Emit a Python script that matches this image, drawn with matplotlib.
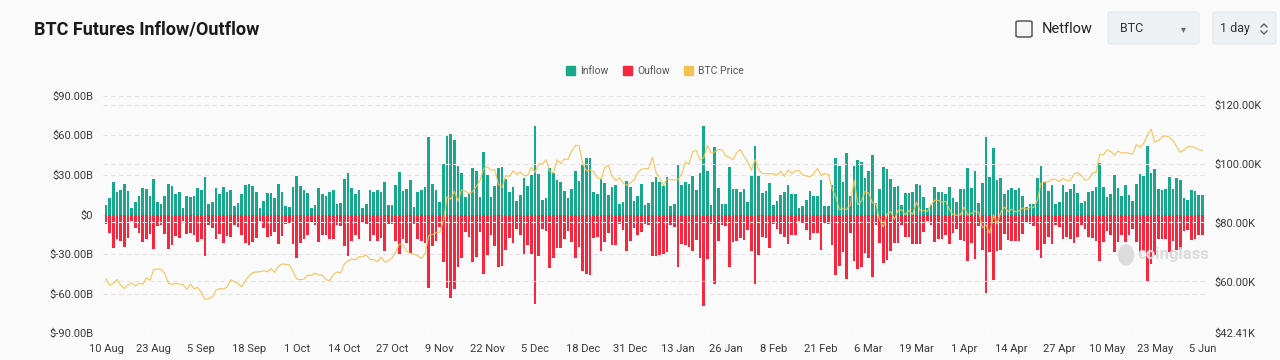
import matplotlib
matplotlib.use("Agg")
import matplotlib.pyplot as plt
from matplotlib.patches import FancyBboxPatch, Rectangle, Ellipse
import pandas as pd

plt.rcParams['font.family'] = ['Roboto', 'DejaVu Sans']

# daily values, 10 Aug 2024 -> 5 Jun 2025 (billions USD)
inflow = [
    7.1, 12.7, 24.4, 17.0, 18.3, 22.9, 17.6, 5.1, 9.7, 14.0,
    20.4, 19.3, 14.0, 27.2, 9.2, 8.1, 13.7, 22.9, 21.6, 15.5,
    17.0, 4.6, 13.7, 13.5, 14.2, 20.4, 18.6, 28.5, 7.6, 9.7,
    19.8, 15.3, 21.1, 16.8, 18.3, 6.4, 8.4, 15.5, 22.4, 23.2,
    21.9, 17.0, 5.1, 10.2, 16.5, 16.5, 12.5, 22.9, 16.8, 6.1,
    5.6, 20.9, 29.0, 21.6, 18.3, 16.0, 4.6, 6.9, 20.4,
    15.3, 14.2, 16.8, 18.6, 7.6, 8.7, 26.7, 31.6, 19.8, 15.8,
    18.8, 5.1, 7.9, 18.3, 16.8, 18.8, 16.8, 24.9, 6.9, 6.9,
    22.1, 32.3, 17.8, 19.6, 26.2, 5.9, 16.8, 18.3, 21.1, 58.5,
    22.9, 18.3, 9.2, 38.2, 59.5, 60.8, 56.7, 36.4, 31.6, 13.0,
    15.5, 35.1, 32.6, 13.2, 47.3, 30.0, 13.0, 21.9, 35.6, 35.9,
    27.2, 17.3, 21.1, 10.2, 14.5, 27.5, 21.9, 30.0, 66.7,
    30.5, 10.7, 12.2, 35.6, 31.3, 26.2, 24.4, 17.8, 12.2, 19.3,
    33.3, 25.2, 37.4, 42.5, 43.0, 17.0, 15.3, 27.0, 24.2, 14.5,
    20.9, 22.4, 7.6, 9.4, 25.2, 20.6, 9.9, 14.0, 22.9, 7.1,
    8.4, 24.7, 28.2, 24.4, 21.6, 28.2, 6.6, 7.9, 37.4, 22.4,
    24.9, 22.9, 29.5, 18.6, 31.3, 66.9, 33.3, 7.4, 50.9, 20.1,
    7.6, 7.9, 36.1, 19.3, 19.3, 16.8, 19.6, 9.4, 29.5, 51.7,
    28.8, 16.0, 17.6, 24.2, 6.9, 10.2, 14.8, 16.8, 22.1, 15.3,
    15.8, 4.6, 6.1, 11.2, 18.1, 13.7, 14.0, 26.2, 6.4, 6.4,
    22.4, 42.7, 36.4, 24.4, 46.6, 14.0, 36.6, 41.0, 39.4, 27.7,
    32.6, 45.3, 8.9, 19.3, 36.1, 34.6, 27.2, 21.1, 21.4, 7.1,
    16.0, 16.5, 16.8, 23.4, 22.4, 13.2, 5.1, 7.1, 20.6, 17.3,
    17.3, 15.5, 21.1, 12.2, 9.7, 19.6, 19.3, 35.1, 20.0,
    32.8, 8.4, 23.9, 58.5, 28.2, 50.4, 26.2, 27.5, 15.5, 18.8,
    20.4, 18.3, 19.8, 14.0, 5.9, 7.6, 8.1, 28.0, 36.4, 24.4,
    18.1, 22.1, 7.9, 9.2, 22.4, 17.3, 19.3, 22.9, 16.5, 8.4,
    10.4, 17.3, 17.8, 21.1, 39.2, 20.9, 13.0, 15.5, 30.0, 19.8,
    14.0, 22.1, 14.8, 10.2, 22.9, 30.5, 29.0, 52.2, 31.8, 34.6,
    19.1, 18.6, 19.1, 28.2, 19.1, 27.5, 26.5, 12.2, 11.2, 18.6,
    18.1, 14.8, 15.0,
]

outflow = [
    7.1, 14.0, 25.2, 18.3, 20.4, 24.7, 17.8, 5.1, 10.2, 13.7,
    20.9, 18.8, 14.8, 26.2, 8.9, 8.1, 14.8, 26.2, 23.2, 16.3,
    17.8, 5.1, 14.5, 14.2, 15.8, 20.9, 18.8, 31.6, 8.1, 10.2,
    18.8, 14.8, 21.9, 16.3, 16.8, 7.6, 9.7, 15.8, 21.4, 23.4,
    20.9, 17.8, 5.1, 9.9, 16.8, 16.3, 13.2, 22.1, 16.3, 7.1,
    6.1, 22.6, 32.8, 21.9, 18.8, 15.8, 5.6, 8.1, 20.9,
    15.3, 15.3, 18.8, 18.3, 7.6, 8.9, 23.9, 31.8, 19.8, 15.3,
    18.3, 5.6, 7.4, 20.1, 15.3, 20.1, 17.8, 27.5, 7.1, 7.1,
    20.1, 29.8, 18.3, 21.9, 29.0, 6.9, 18.3, 20.1, 21.6, 56.0,
    23.9, 19.8, 9.7, 36.1, 56.0, 63.4, 56.5, 39.9, 32.8, 13.2,
    17.3, 36.1, 32.3, 13.2, 45.0, 31.0, 15.3, 23.9, 39.9, 39.2,
    27.0, 17.8, 21.4, 10.7, 15.3, 29.8, 22.9, 30.0, 67.9,
    31.6, 10.7, 12.5, 40.5, 33.3, 25.2, 25.2, 18.3, 12.5, 20.9,
    32.8, 24.9, 42.5, 45.0, 45.8, 17.6, 16.8, 27.5, 20.9, 13.7,
    22.9, 23.4, 6.9, 11.5, 27.5, 20.1, 10.2, 15.3, 13.2, 6.9,
    8.1, 31.3, 31.8, 31.0, 29.8, 28.5, 7.6, 9.4, 39.9, 22.6,
    23.4, 24.7, 27.5, 19.6, 32.6, 69.2, 33.6, 7.1, 52.7, 20.1,
    8.1, 8.9, 39.9, 20.9, 19.8, 17.6, 19.6, 11.7, 27.7, 52.7,
    31.0, 17.0, 17.6, 25.4, 6.9, 11.2, 14.8, 17.3, 22.4, 15.8,
    15.8, 5.1, 6.6, 12.0, 19.3, 13.7, 14.2, 27.0, 6.6, 6.9,
    22.9, 45.5, 39.2, 28.5, 48.9, 13.7, 34.9, 41.2, 39.9, 29.3,
    32.8, 47.3, 8.1, 21.4, 36.6, 34.6, 27.5, 21.9, 21.4, 7.6,
    16.8, 17.0, 22.1, 22.4, 22.4, 13.2, 5.1, 8.1, 20.9, 18.3,
    18.8, 15.8, 22.4, 13.7, 10.7, 19.6, 19.8, 34.9, 21.6,
    33.6, 8.9, 26.7, 59.5, 28.5, 49.6, 28.0, 27.2, 14.5, 19.6,
    20.1, 20.1, 20.4, 14.5, 5.6, 7.1, 8.7, 27.0, 32.6, 22.1,
    17.0, 22.1, 8.1, 9.4, 18.3, 17.0, 18.8, 21.4, 17.0, 8.1,
    10.7, 17.0, 17.8, 20.4, 35.4, 20.9, 12.2, 15.8, 28.5, 20.9,
    15.3, 20.9, 15.3, 10.7, 20.9, 28.5, 27.5, 51.4, 37.4, 30.5,
    18.8, 18.3, 18.8, 28.5, 20.1, 27.0, 27.2, 12.7, 11.5, 19.6,
    18.8, 15.3, 15.6,
]

# BTC price, thousands USD
price = [
    60.9, 58.7, 59.3, 60.6, 58.7, 57.6, 58.9, 59.5, 58.4, 59.5, 59.0, 61.2, 60.4, 64.1, 64.2, 64.2, 62.8, 59.4, 59.0, 59.4, 59.1, 58.9,
    57.3, 59.1, 57.5, 58.0, 56.2, 53.9, 54.2, 54.8, 57.0, 57.6, 57.4, 58.1, 60.5, 60.0, 59.2, 58.2, 60.3, 61.8, 63.0, 63.2, 63.3, 63.6, 63.3, 64.3, 63.1, 65.2, 65.9, 65.8, 65.6, 63.3,
    60.8, 60.6, 60.8, 62.1, 62.1, 62.8, 62.2, 62.1, 60.6, 60.3, 62.4, 63.2, 62.9, 66.0, 67.0, 67.6, 67.4, 68.4, 68.4, 69.0, 67.4, 67.4, 66.7, 68.2, 66.6, 67.0, 68.0, 69.9, 72.7, 72.3, 70.2,
    69.5, 69.3, 68.7, 67.8, 69.4, 75.6, 75.9, 76.5, 76.7, 80.5, 88.7, 87.9, 90.6, 87.3, 91.1, 90.6, 89.8, 90.5, 92.3, 94.3, 98.4, 98.9, 97.7, 98.0, 93.0, 91.9, 95.9, 95.6, 97.5, 96.4,
    97.2, 95.8, 96.0, 98.8, 97.0, 99.9, 99.9, 101.2, 97.4, 96.7, 101.2, 100.0, 101.5, 101.4, 104.3, 106.1, 106.1, 100.0, 97.5, 97.8, 97.2, 95.1, 94.7, 98.7, 99.4, 95.8, 94.2, 95.2, 93.4, 92.6, 93.4,
    94.4, 96.9, 98.1, 98.2, 98.3, 102.1, 96.9, 95.0, 92.5, 94.7, 94.5, 94.5, 94.5, 96.5, 100.5, 99.9, 104.1, 104.4, 101.1, 102.0, 106.1, 103.7, 103.9, 104.8, 104.7, 102.6, 102.1, 101.3, 103.7, 104.7, 102.4,
    100.6, 97.7, 101.4, 97.9, 96.6, 96.6, 96.5, 96.5, 96.1, 97.4, 95.7, 97.8, 96.6, 97.5, 97.6, 96.1, 95.8, 95.5, 96.6, 98.3, 96.1, 96.6, 96.3, 91.5, 88.7, 84.3, 84.7, 84.4,
    86.0, 94.3, 86.1, 87.2, 90.6, 89.9, 86.7, 86.2, 80.7, 78.5, 82.9, 83.7, 81.1, 84.0, 84.3, 82.6, 84.1, 82.7, 86.9, 84.2, 84.0, 83.8, 86.1, 87.5, 87.5, 86.9, 87.2, 84.4, 82.6, 82.4, 82.5,
    85.2, 82.5, 83.1, 83.8, 83.5, 78.2, 79.2, 76.3, 82.6, 79.6, 83.4, 85.3, 83.7, 84.5, 83.6, 84.0, 84.9, 84.5, 85.1, 85.1, 87.5, 93.4, 93.7, 93.9, 94.7, 94.6, 93.8, 95.0, 94.3, 94.2,
    96.5, 96.9, 95.9, 94.3, 94.7, 96.8, 97.0, 103.2, 102.9, 104.6, 104.1, 102.8, 104.2, 103.5, 103.7, 103.5, 103.2, 106.4, 105.6, 106.8, 109.7, 111.7, 107.3, 107.8, 109.0, 109.4, 108.9, 107.8, 105.6, 103.9, 104.6,
    105.7, 105.7, 105.4, 104.7, 104.5,
]

dates = pd.date_range("2024-08-10", "2025-06-05", freq="D")

x_labels = ["10 Aug", "23 Aug", "5 Sep", "18 Sep", "1 Oct", "14 Oct", "27 Oct", "9 Nov",
            "22 Nov", "5 Dec", "18 Dec", "31 Dec", "13 Jan", "26 Jan", "8 Feb", "21 Feb",
            "6 Mar", "19 Mar", "1 Apr", "14 Apr", "27 Apr", "10 May", "23 May", "5 Jun"]
left_ticks = [90, 60, 30, 0, -30, -60, -90]
left_labels = ["$90.00B", "$60.00B", "$30.00B", "$0", "$-30.00B", "$-60.00B", "$-90.00B"]
right_ticks = [42.41, 60, 80, 100, 120]
right_labels = ["$42.41K", "$60.00K", "$80.00K", "$100.00K", "$120.00K"]

c_in = "#1aa88c"
c_out = "#f6283f"
c_price = "#f2c250"
bg = "#fafafa"
txt = "#3a3a3a"
grid_c = "#e4e4e4"

W, H = 1280, 360
fig = plt.figure(figsize=(12.8, 3.6), dpi=100, facecolor=bg)


def fx(x):
    return x / W


def fy(y):
    return 1 - y / H


ax = fig.add_axes([fx(103), fy(333.3), fx(1205) - fx(103), fy(95.7) - fy(333.3)])
ax.set_facecolor(bg)
ax.bar(dates, inflow, width=0.7, color=c_in, linewidth=0)
ax.bar(dates, [-v for v in outflow], width=0.7, color=c_out, linewidth=0)
ax.set_ylim(-90, 90)
ax.set_yticks(left_ticks)
ax.set_yticklabels(left_labels)
ax.set_xlim(dates[0] - pd.Timedelta(hours=20), dates[-1] + pd.Timedelta(hours=17))
ax.set_xticks(dates[::13])
ax.set_xticklabels(x_labels)
ax.grid(axis="y", color=grid_c, linestyle=(0, (4, 3)), linewidth=0.8)
ax.set_axisbelow(True)
for s in ax.spines.values():
    s.set_visible(False)
ax.tick_params(length=0, labelsize=8, labelcolor=txt)
ax.tick_params(axis="y", pad=7)
ax.tick_params(axis="x", pad=8)

ax2 = ax.twinx()
ax2.plot(dates, price, color=c_price, linewidth=0.9, alpha=0.85)
ax2.set_ylim(42.41, 123.0)
ax2.set_yticks(right_ticks)
ax2.set_yticklabels(right_labels)
ax2.grid(axis="y", color=grid_c, linestyle=(0, (4, 3)), linewidth=0.8)
ax2.set_axisbelow(True)
for s in ax2.spines.values():
    s.set_visible(False)
ax2.tick_params(length=0, labelsize=8, labelcolor=txt, pad=7)

# title
fig.text(fx(34), fy(29), "BTC Futures Inflow/Outflow", fontsize=13, fontweight="bold",
         color="#1a1a1a", va="center", ha="left")

# legend
leg_items = [("Inflow", c_in, 566), ("Ouflow", c_out, 623), ("BTC Price", c_price, 684)]
for name, col, px in leg_items:
    fig.patches.append(Rectangle((fx(px), fy(75)), fx(9), 9 / H, color=col,
                                 transform=fig.transFigure))
    fig.text(fx(px + 14), fy(70.5), name, fontsize=7.5, color="#555555", va="center")

# controls on the top right
fig.patches.append(FancyBboxPatch((fx(1016), fy(37)), fx(16), 16 / H,
                                  boxstyle="round,pad=0,rounding_size=0.003",
                                  facecolor="#f4f6f8", edgecolor="#555555", linewidth=1.1,
                                  transform=fig.transFigure))
fig.text(fx(1042), fy(29), "Netflow", fontsize=10.5, color="#222222", va="center")
for x0, w in [(1108, 91), (1213, 63)]:
    fig.patches.append(FancyBboxPatch((fx(x0), fy(44)), fx(w), 32 / H,
                                      boxstyle="round,pad=0,rounding_size=0.004",
                                      facecolor="#eef1f4", edgecolor="#e4e8ec", linewidth=0.8,
                                      transform=fig.transFigure))
fig.text(fx(1120), fy(28.5), "BTC", fontsize=9, color="#333333", va="center")
fig.text(fx(1183), fy(29), "\u25BE", fontsize=7, color="#666666", va="center", ha="center")
fig.text(fx(1220), fy(28.5), "1 day", fontsize=9, color="#333333", va="center")
fig.lines.append(plt.Line2D([fx(1261), fx(1264), fx(1267)], [fy(27), fy(24), fy(27)],
                            color="#555555", linewidth=0.9, transform=fig.transFigure))
fig.lines.append(plt.Line2D([fx(1261), fx(1264), fx(1267)], [fy(31), fy(34), fy(31)],
                            color="#555555", linewidth=0.9, transform=fig.transFigure))

# watermark
fig.patches.append(Ellipse((fx(1126), fy(255)), fx(15), 20 / H, color="#dcdcdc",
                           transform=fig.transFigure))
fig.text(fx(1138), fy(255), "coinglass", fontsize=12, fontweight="bold", color="#dcdcdc",
         va="center", ha="left")

fig.savefig("out.png", dpi=100, facecolor=bg)
